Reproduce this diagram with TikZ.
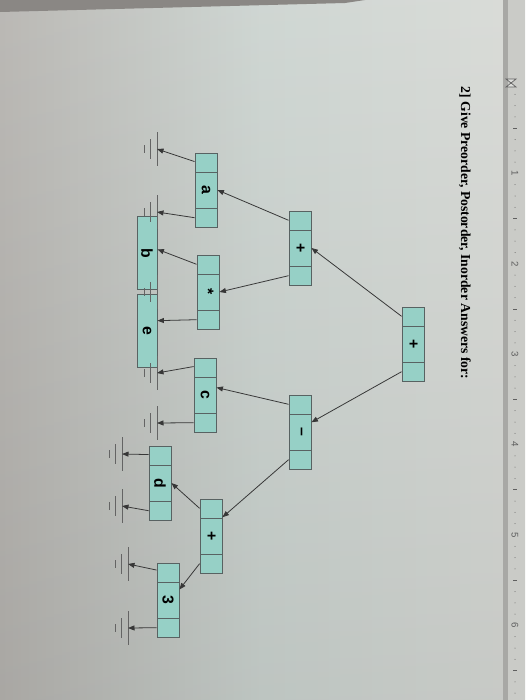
\documentclass[tikz,border=0pt]{standalone}
\usepackage{fontspec}
\setmainfont{Liberation Serif}
\setsansfont{Liberation Sans}
\usetikzlibrary{arrows.meta,calc}
\definecolor{PHleft}{RGB}{182,180,176}
\definecolor{PHmid}{RGB}{204,212,208}
\definecolor{PHright}{RGB}{216,218,214}
\definecolor{PHtop}{RGB}{138,135,132}
\definecolor{TRfill}{RGB}{150,208,198}
\definecolor{TRline}{RGB}{88,98,98}
\definecolor{TRarrow}{RGB}{55,55,55}
\definecolor{TRground}{RGB}{100,100,100}
\definecolor{RLface}{RGB}{202,203,199}
\definecolor{RLedge}{RGB}{168,168,165}
\definecolor{RLmark}{RGB}{95,95,95}
\tikzset{
  tree cell/.style={
    draw=TRline,
    line width=0.5pt,
    fill=TRfill,
    minimum width=0.44cm,
    minimum height=1.48cm,
    inner sep=0pt,
    font=\sffamily\bfseries\fontsize{9}{9}\selectfont,
    path picture={
      \draw[TRline,line width=0.5pt]
        ([yshift=-0.38cm]path picture bounding box.north west) --
        ([yshift=-0.38cm]path picture bounding box.north east)
        ([yshift=0.38cm]path picture bounding box.south west) --
        ([yshift=0.38cm]path picture bounding box.south east);
    }
  },
  tree leaf/.style={tree cell,path picture={},minimum width=0.4cm,minimum height=1.46cm},
  tree arrow/.style={-{Triangle[length=1.3mm,width=1mm]},line width=0.45pt,draw=TRarrow},
  null ground/.pic={
    \draw[TRground,line width=0.55pt]
      (0,-17) -- (0,17)
      (-7,-10) -- (-7,10)
      (-13,-4) -- (-13,4);
  },
  title text/.style={font=\bfseries\fontsize{7.8}{9}\selectfont,inner sep=0pt},
  ruler num/.style={font=\sffamily\fontsize{5.5}{6}\selectfont,text=RLmark,inner sep=0pt}
}

\begin{document}
\begin{tikzpicture}[x=0.02cm,y=-0.02cm]
  \useasboundingbox (0,0) rectangle (525,700);
  % photo background
  \shade[left color=PHleft,right color=PHright,middle color=PHmid] (0,0) rectangle (525,700);
  \shade[top color=white,bottom color=black,opacity=0.07] (0,0) rectangle (525,700);
  \fill[PHtop] (0,0) -- (365,0) -- (345,3) -- (0,12) -- cycle;

  % ruler
  \fill[RLedge] (503,0) rectangle (508,700);
  \fill[RLface] (508,0) rectangle (525,700);
  \draw[RLmark,fill=RLface!60!white,line width=0.4pt]
    (506,79) -- (516,79) -- (511,83) -- (516,87) -- (506,87) -- (511,83) -- cycle;
  \foreach \n in {0,...,6}{
    \foreach \k in {1,2,3,5,6,7}{
      \fill[RLmark] ($(515,83)+(0,90.4*\n+11.3*\k)$) circle (0.5);
    }
    \draw[RLmark,line width=0.4pt] ($(513,83)+(0,90.4*\n+45.2)$) -- ++(4,0);
  }
  \foreach \n in {1,...,6}{
    \node[ruler num,rotate=-90] at ($(515,83)+(0,90.4*\n)$) {\n};
  }

  \node[title text,rotate=-90] (title) at (465,233)
    {2] Give Preorder, Postorder, Inorder Answers for:};

  % tree nodes
  \node[tree cell] (root) at (413,344) {\rotatebox{-90}{+}};
  \node[tree cell] (plusL) at (300,248) {\rotatebox{-90}{+}};
  \node[tree cell] (minus) at (300,432) {\rotatebox{-90}{–}};
  \node[tree cell] (a) at (206,190) {\rotatebox{-90}{a}};
  \node[tree cell] (star) at (208,292) {\rotatebox{-90}{*}};
  \node[tree cell] (c) at (205,395) {\rotatebox{-90}{c}};
  \node[tree cell] (plusR) at (211,536) {\rotatebox{-90}{+}};
  \node[tree cell] (d) at (160,483) {\rotatebox{-90}{d}};
  \node[tree cell] (three) at (168,600) {\rotatebox{-90}{3}};
  \node[tree leaf] (b) at (147,253) {\rotatebox{-90}{b}};
  \node[tree leaf] (e) at (147,331) {\rotatebox{-90}{e}};

  % null pointers
  \coordinate (aNull1) at (157,149);
  \coordinate (aNull2) at (157,212);
  \coordinate (beNull) at (157,292);
  \coordinate (cNull1) at (157,373);
  \coordinate (cNull2) at (157,423);
  \coordinate (dNull1) at (122,454);
  \coordinate (dNull2) at (122,506);
  \coordinate (tNull1) at (128,564);
  \coordinate (tNull2) at (128,628);
  \pic at (aNull1) {null ground};
  \pic at (aNull2) {null ground};
  \pic at (beNull) {null ground};
  \pic at (cNull1) {null ground};
  \pic at (cNull2) {null ground};
  \pic at (dNull1) {null ground};
  \pic at (dNull2) {null ground};
  \pic at (tNull1) {null ground};
  \pic at (tNull2) {null ground};

  % child links
  \draw[tree arrow] ($(root.north west)!0.13!(root.south west)$) -- (plusL.east);
  \draw[tree arrow] ($(root.north west)!0.87!(root.south west)$) -- ($(minus.north east)!0.37!(minus.south east)$);
  \draw[tree arrow] ($(plusL.north west)!0.13!(plusL.south west)$) -- (a.east);
  \draw[tree arrow] ($(plusL.north west)!0.87!(plusL.south west)$) -- (star.east);
  \draw[tree arrow] ($(star.north west)!0.13!(star.south west)$) -- ($(b.north east)!0.45!(b.south east)$);
  \draw[tree arrow] ($(star.north west)!0.87!(star.south west)$) -- ($(e.north east)!0.36!(e.south east)$);
  \draw[tree arrow] ($(minus.north west)!0.13!(minus.south west)$) -- ($(c.north east)!0.4!(c.south east)$);
  \draw[tree arrow] ($(minus.north west)!0.87!(minus.south west)$) -- ($(plusR.north east)!0.25!(plusR.south east)$);
  \draw[tree arrow] ($(plusR.north west)!0.13!(plusR.south west)$) -- (d.east);
  \draw[tree arrow] ($(plusR.north west)!0.87!(plusR.south west)$) -- ($(three.north east)!0.36!(three.south east)$);
  \draw[tree arrow] ($(a.north west)!0.12!(a.south west)$) -- (aNull1);
  \draw[tree arrow] ($(a.north west)!0.87!(a.south west)$) -- (aNull2);
  \draw[tree arrow] ($(c.north west)!0.12!(c.south west)$) -- (cNull1);
  \draw[tree arrow] ($(c.north west)!0.87!(c.south west)$) -- (cNull2);
  \draw[tree arrow] ($(d.north west)!0.12!(d.south west)$) -- (dNull1);
  \draw[tree arrow] ($(d.north west)!0.87!(d.south west)$) -- (dNull2);
  \draw[tree arrow] ($(three.north west)!0.1!(three.south west)$) -- (tNull1);
  \draw[tree arrow] ($(three.north west)!0.87!(three.south west)$) -- (tNull2);
\end{tikzpicture}
\end{document}
